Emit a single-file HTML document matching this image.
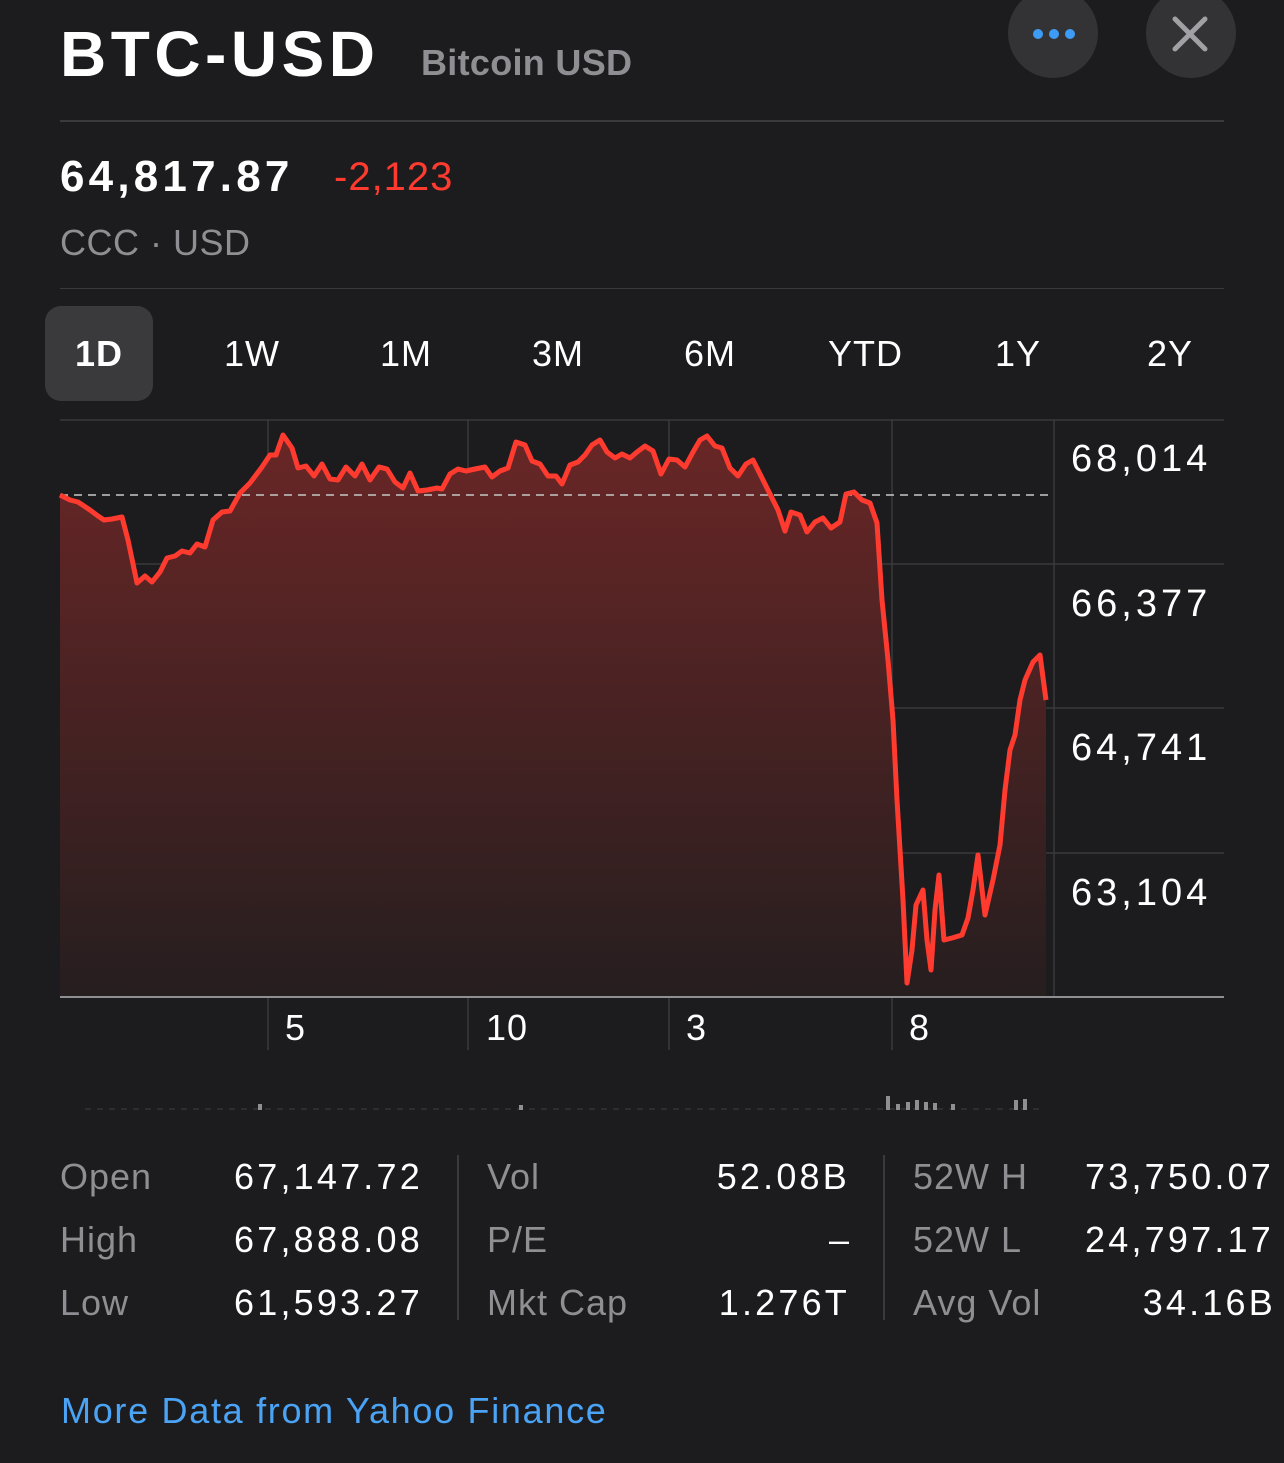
<!DOCTYPE html>
<html><head><meta charset="utf-8"><style>
body{margin:0;background:#1c1c1e;width:1284px;height:1463px;overflow:hidden;font-family:"Liberation Sans",sans-serif;color:#fff;position:relative}
.a{position:absolute;white-space:nowrap}
.g{color:#8e8e93}
.s{font-size:36px;line-height:40px;letter-spacing:1px}
.n{letter-spacing:3.2px}
.y{font-size:38px;letter-spacing:4px}
</style></head><body>
<div class="a" style="left:60px;top:18px;font-size:64px;font-weight:bold;line-height:72px;letter-spacing:4.5px">BTC-USD</div>
<div class="a g" style="left:421px;top:42px;font-size:36px;font-weight:bold;letter-spacing:0.3px">Bitcoin USD</div>
<div class="a" style="left:1008px;top:-12px;width:90px;height:90px;border-radius:45px;background:#333336"></div>
<svg class="a" style="left:1030px;top:24px" width="50" height="20"><circle cx="8" cy="10" r="5" fill="#3d9cf5"/><circle cx="24" cy="10" r="5" fill="#3d9cf5"/><circle cx="40" cy="10" r="5" fill="#3d9cf5"/></svg>
<div class="a" style="left:1146px;top:-12px;width:90px;height:90px;border-radius:45px;background:#333336"></div>
<svg class="a" style="left:1172px;top:16px" width="36" height="36"><path d="M3 3L33 33M33 3L3 33" stroke="#a0a0a5" stroke-width="5" stroke-linecap="round"/></svg>
<div class="a" style="left:60px;top:120px;width:1164px;height:2px;background:#3a3a3c"></div>
<div class="a" style="left:60px;top:152px;font-size:44px;font-weight:bold;letter-spacing:4.2px">64,817.87</div>
<div class="a" style="left:334px;top:155px;font-size:40px;color:#ff3b30;letter-spacing:1px">-2,123</div>
<div class="a g" style="left:60px;top:222px;font-size:36px;letter-spacing:0.5px">CCC · USD</div>
<div class="a" style="left:60px;top:288px;width:1164px;height:1px;background:#3a3a3c"></div>
<div class="a" style="left:45px;top:306px;width:108px;height:95px;border-radius:16px;background:#3a3a3c"></div>
<div class="a s" style="left:45px;top:334px;width:108px;text-align:center;font-weight:bold">1D</div>
<div class="a s" style="left:224px;top:334px">1W</div>
<div class="a s" style="left:380px;top:334px">1M</div>
<div class="a s" style="left:532px;top:334px">3M</div>
<div class="a s" style="left:684px;top:334px">6M</div>
<div class="a s" style="left:828px;top:334px">YTD</div>
<div class="a s" style="left:995px;top:334px">1Y</div>
<div class="a s" style="left:1147px;top:334px">2Y</div>
<svg class="a" style="left:0;top:0" width="1284" height="1463">
<defs><linearGradient id="f" gradientUnits="userSpaceOnUse" x1="0" y1="430" x2="0" y2="997"><stop offset="0" stop-color="#6a2626"/><stop offset="1" stop-color="#261e1f"/></linearGradient></defs>
<g stroke="#3a3a3c" stroke-width="1.5">
<line x1="60" y1="420" x2="1224" y2="420"/><line x1="60" y1="564" x2="1224" y2="564"/><line x1="60" y1="708" x2="1224" y2="708"/><line x1="60" y1="853" x2="1224" y2="853"/>
<line x1="268" y1="420" x2="268" y2="1050"/><line x1="468" y1="420" x2="468" y2="1050"/><line x1="669" y1="420" x2="669" y2="1050"/><line x1="892" y1="420" x2="892" y2="1050"/><line x1="1054" y1="420" x2="1054" y2="997"/>
</g>
<polygon fill="url(#f)" points="60,997 60,495 70,500 78,502 90,510 98,516 104,520 112,519 122,517 128,540 137,583 145,576 152,582 160,572 167,558 175,556 182,551 190,553 197,544 205,547 213,520 222,512 230,511 240,493 250,483 262,467 270,455 276,455 283,435 292,448 298,468 306,466 314,476 322,464 330,479 338,480 346,467 355,476 362,464 370,480 379,467 387,469 395,482 403,488 410,473 418,491 427,490 437,488 442,489 450,474 458,469 466,471 475,469 485,467 492,477 500,471 508,468 516,442 525,445 532,461 540,464 548,476 556,476 562,484 570,465 578,462 585,455 592,445 600,440 607,452 615,458 622,454 630,458 637,452 645,446 653,451 661,474 669,459 677,460 685,467 693,452 700,440 707,436 715,446 722,448 730,468 738,476 746,464 753,460 762,478 770,494 778,510 785,531 791,512 800,515 807,532 815,522 823,518 831,528 840,522 846,494 854,492 862,500 870,503 877,523 882,600 888,660 893,720 897,800 903,900 907,983 912,950 916,905 923,890 927,940 931,970 935,910 939,875 944,940 952,938 962,935 968,918 973,890 978,855 985,915 993,880 1000,845 1005,790 1010,750 1015,735 1020,700 1025,680 1033,662 1040,655 1046,700 1046,997"/>
<line x1="60" y1="495" x2="1052" y2="495" stroke="#c8c8c8" stroke-width="1.5" stroke-dasharray="8,6"/>
<polyline fill="none" stroke="#ff3b30" stroke-width="5" stroke-linejoin="round" points="60,495 70,500 78,502 90,510 98,516 104,520 112,519 122,517 128,540 137,583 145,576 152,582 160,572 167,558 175,556 182,551 190,553 197,544 205,547 213,520 222,512 230,511 240,493 250,483 262,467 270,455 276,455 283,435 292,448 298,468 306,466 314,476 322,464 330,479 338,480 346,467 355,476 362,464 370,480 379,467 387,469 395,482 403,488 410,473 418,491 427,490 437,488 442,489 450,474 458,469 466,471 475,469 485,467 492,477 500,471 508,468 516,442 525,445 532,461 540,464 548,476 556,476 562,484 570,465 578,462 585,455 592,445 600,440 607,452 615,458 622,454 630,458 637,452 645,446 653,451 661,474 669,459 677,460 685,467 693,452 700,440 707,436 715,446 722,448 730,468 738,476 746,464 753,460 762,478 770,494 778,510 785,531 791,512 800,515 807,532 815,522 823,518 831,528 840,522 846,494 854,492 862,500 870,503 877,523 882,600 888,660 893,720 897,800 903,900 907,983 912,950 916,905 923,890 927,940 931,970 935,910 939,875 944,940 952,938 962,935 968,918 973,890 978,855 985,915 993,880 1000,845 1005,790 1010,750 1015,735 1020,700 1025,680 1033,662 1040,655 1046,700"/>
<line x1="60" y1="997" x2="1224" y2="997" stroke="#8e8e93" stroke-width="2"/>
<line x1="85" y1="1109" x2="1045" y2="1109" stroke="#2e2e30" stroke-width="2" stroke-dasharray="6,6"/>
<g stroke="#8e8e93" stroke-width="4">
<line x1="888" y1="1096" x2="888" y2="1110"/><line x1="898" y1="1104" x2="898" y2="1110"/><line x1="908" y1="1102" x2="908" y2="1110"/><line x1="917" y1="1100" x2="917" y2="1110"/><line x1="926" y1="1102" x2="926" y2="1110"/><line x1="935" y1="1103" x2="935" y2="1110"/><line x1="953" y1="1104" x2="953" y2="1110"/><line x1="1016" y1="1100" x2="1016" y2="1110"/><line x1="1025" y1="1099" x2="1025" y2="1110"/><line x1="521" y1="1105" x2="521" y2="1110"/><line x1="260" y1="1104" x2="260" y2="1110"/>
</g>
<g stroke="#3a3a3c" stroke-width="2"><line x1="458" y1="1155" x2="458" y2="1320"/><line x1="884" y1="1155" x2="884" y2="1320"/></g>
</svg>
<div class="a y" style="left:1071px;top:438px">68,014</div>
<div class="a y" style="left:1071px;top:583px">66,377</div>
<div class="a y" style="left:1071px;top:727px">64,741</div>
<div class="a y" style="left:1071px;top:872px">63,104</div>
<div class="a s" style="left:285px;top:1008px">5</div>
<div class="a s" style="left:486px;top:1008px">10</div>
<div class="a s" style="left:686px;top:1008px">3</div>
<div class="a s" style="left:909px;top:1008px">8</div>
<div class="a s g" style="left:60px;top:1157px">Open</div><div class="a s n" style="left:234px;top:1157px">67,147.72</div>
<div class="a s g" style="left:60px;top:1220px">High</div><div class="a s n" style="left:234px;top:1220px">67,888.08</div>
<div class="a s g" style="left:60px;top:1283px">Low</div><div class="a s n" style="left:234px;top:1283px">61,593.27</div>
<div class="a s g" style="left:487px;top:1157px">Vol</div><div class="a s n" style="right:434px;top:1157px">52.08B</div>
<div class="a s g" style="left:487px;top:1220px">P/E</div><div class="a s" style="right:434px;top:1220px">–</div>
<div class="a s g" style="left:487px;top:1283px">Mkt Cap</div><div class="a s n" style="right:434px;top:1283px">1.276T</div>
<div class="a s g" style="left:913px;top:1157px">52W H</div><div class="a s n" style="right:10px;top:1157px">73,750.07</div>
<div class="a s g" style="left:913px;top:1220px">52W L</div><div class="a s n" style="right:10px;top:1220px">24,797.17</div>
<div class="a s g" style="left:913px;top:1283px">Avg Vol</div><div class="a s n" style="right:8px;top:1283px">34.16B</div>
<div class="a s" style="left:61px;top:1391px;color:#4aa3f5;letter-spacing:1.7px">More Data from Yahoo Finance</div>
</body></html>
